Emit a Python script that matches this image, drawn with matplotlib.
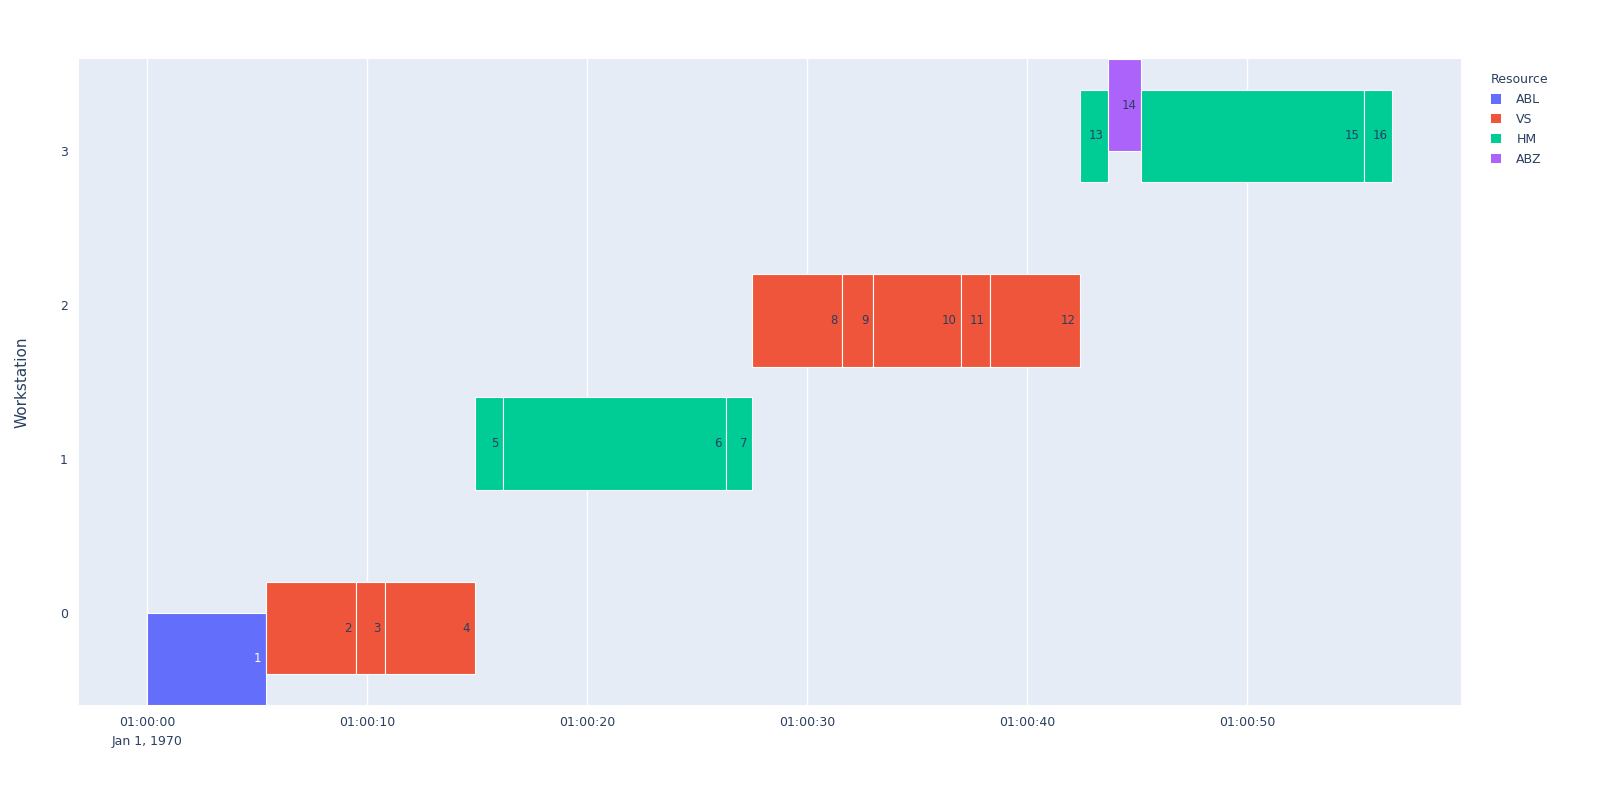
import matplotlib
matplotlib.use("Agg")
import matplotlib.pyplot as plt
from matplotlib.patches import Patch

tasks = ["1","2","3","4","5","6","7","8","9","10","11","12","13","14","15","16"]
starts = [0,5.4,9.5,10.8,14.9,16.2,26.3,27.5,31.6,33.0,37.0,38.3,42.4,43.7,45.2,55.3]
ends = [5.4,9.5,10.8,14.9,16.2,26.3,27.5,31.6,33.0,37.0,38.3,42.4,43.7,45.2,55.3,56.6]
stations = [0,0,0,0,1,1,1,2,2,2,2,2,3,3,3,3]
resources = ["ABL","VS","VS","VS","HM","HM","HM","VS","VS","VS","VS","VS","HM","ABZ","HM","HM"]
res_order = ["ABL","VS","HM","ABZ"]
colors = {"ABL":"#636efa","VS":"#EF553B","HM":"#00cc96","ABZ":"#ab63fa"}
offsets = {"ABL":-0.3,"VS":-0.1,"HM":0.1,"ABZ":0.3}
width = 0.6

fig = plt.figure(figsize=(16,8), dpi=100)
ax = fig.add_axes([79/1600, 95/800, (1461-79)/1600, (705-59)/800])
ax.set_facecolor("#E5ECF6")
for t,s,e,w,r in zip(tasks,starts,ends,stations,resources):
    yc = w + offsets[r]
    ax.barh(yc, e-s, left=s, height=width, color=colors[r], edgecolor="white", linewidth=0.8, zorder=3)
    ax.text(e-0.2, yc, t, ha="right", va="center", fontsize=8.5,
            color="white" if r=="ABL" else "#2a3f5f", zorder=4)
ax.set_xlim(-3.09, 59.73)
ax.set_ylim(-0.6, 3.6)
ax.set_xticks([0,10,20,30,40,50])
ax.set_xticklabels(["01:00:00\nJan 1, 1970","01:00:10","01:00:20","01:00:30","01:00:40","01:00:50"])
ax.set_yticks([0,1,2,3])
ax.grid(axis="x", color="white", linewidth=1, zorder=0)
for sp in ax.spines.values(): sp.set_visible(False)
ax.tick_params(length=0, labelsize=9, colors="#2a3f5f", pad=8)
for lbl in ax.get_xticklabels(): lbl.set_linespacing(1.6)
ax.set_ylabel("Workstation", fontsize=11, color="#2a3f5f", labelpad=22)
handles = [Patch(facecolor=colors[r], label=r) for r in res_order]
leg = fig.legend(handles=handles, title="Resource", loc="upper left", bbox_to_anchor=(1480/1600, 738/800),
                 frameon=False, fontsize=9, title_fontsize=9, handlelength=0.8, handleheight=0.8,
                 labelspacing=0.55, handletextpad=1.2)
leg._legend_box.align = "left"
for tx in leg.get_texts(): tx.set_color("#2a3f5f")
leg.get_title().set_color("#2a3f5f")
fig.savefig("out.png")
